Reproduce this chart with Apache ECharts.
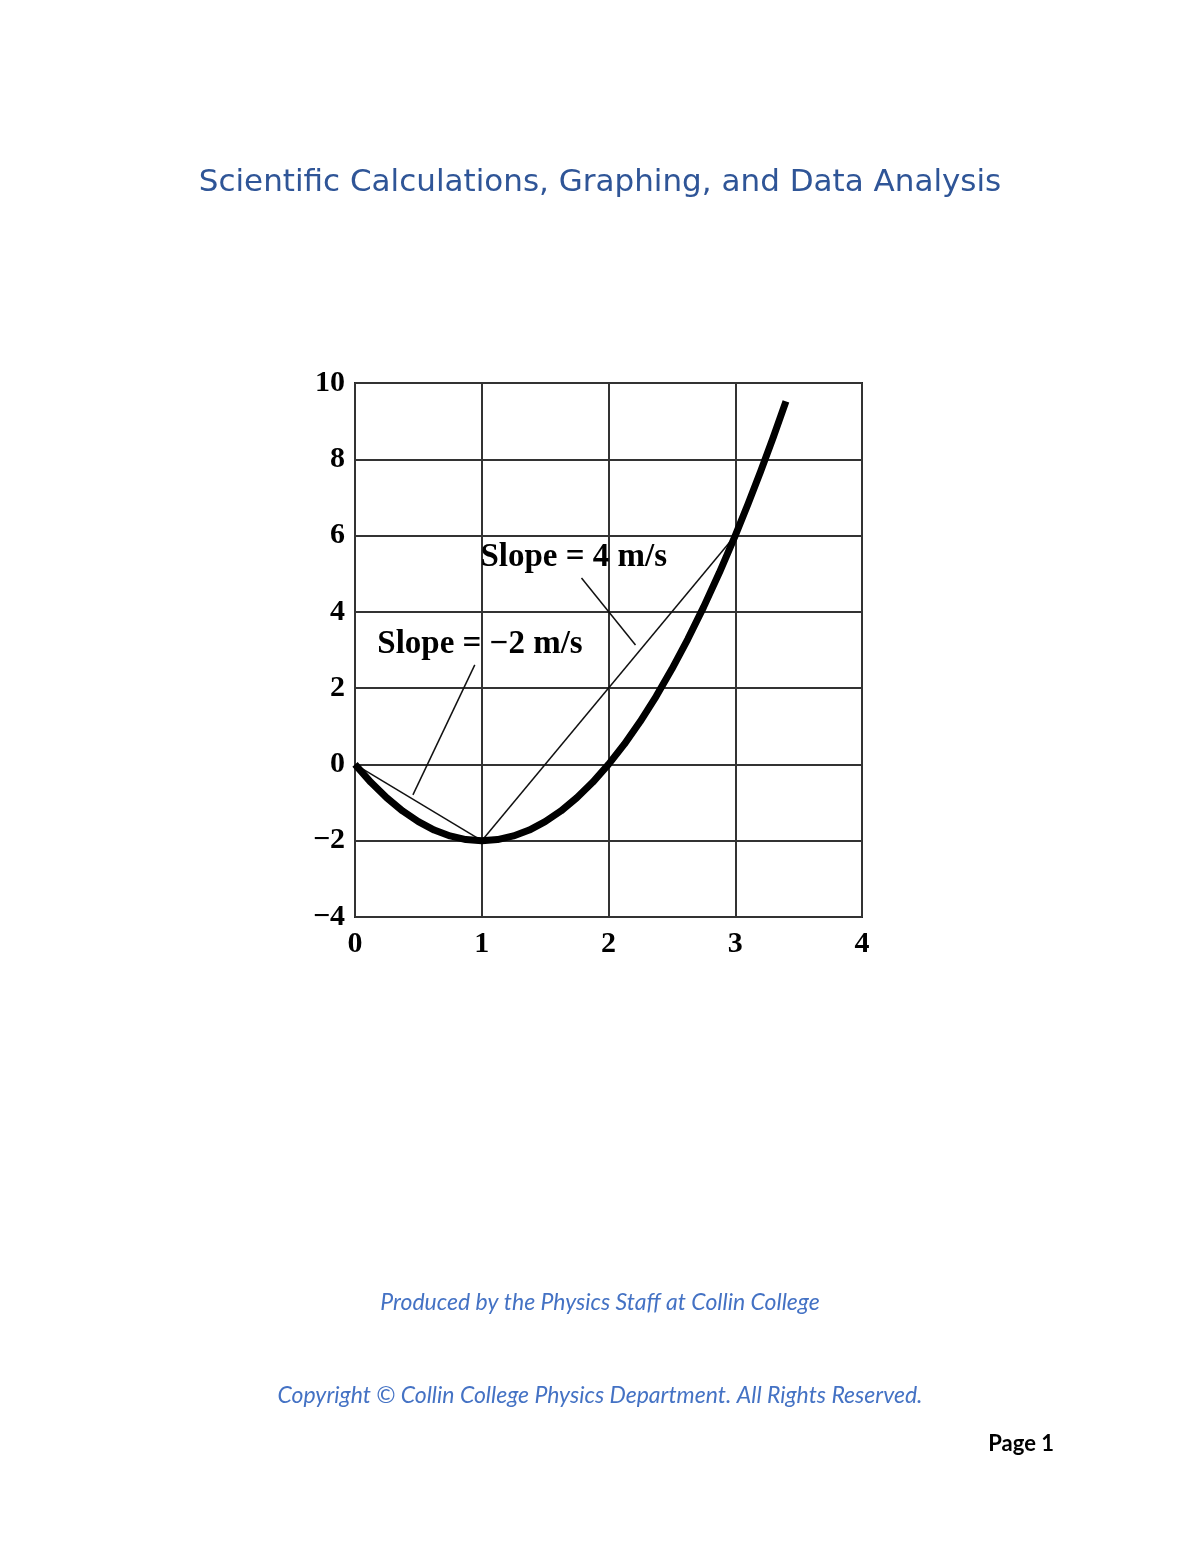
<!DOCTYPE html>
<html><head><meta charset="utf-8">
<script src="https://cdn.jsdelivr.net/npm/echarts@6/dist/echarts.min.js"></script>
<style>html,body{margin:0;padding:0;background:#fff}#c{width:1200px;height:1553px}</style>
</head><body><div id="c"></div>
<script>
const xTicks = [0,1,2,3,4];
const yTicks = [-4,-2,0,2,4,6,8,10];
const curve = [[0,0],[0.125,-0.47],[0.25,-0.875],[0.375,-1.22],[0.5,-1.5],[0.625,-1.72],[0.75,-1.875],[0.875,-1.97],[1,-2],[1.125,-1.97],[1.25,-1.875],[1.375,-1.72],[1.5,-1.5],[1.625,-1.22],[1.75,-0.875],[1.875,-0.47],[2,0],[2.125,0.53],[2.25,1.125],[2.375,1.78],[2.5,2.5],[2.625,3.28],[2.75,4.125],[2.875,5.03],[3,6],[3.1,6.82],[3.2,7.68],[3.3,8.58],[3.4,9.52]];
const chord1 = [[0,0],[1,-2]];
const chord2 = [[1,-2],[3,6]];
const pointer1 = [[0.945,2.61],[0.457,-0.8]];
const pointer2 = [[1.787,4.89],[2.213,3.13]];
const labels = [{text:'Slope = 4 m/s', pos:[1.73,5.42]},{text:'Slope = \u22122 m/s', pos:[0.99,3.12]}];

const ch = echarts.init(document.getElementById('c'));
const thin = (d)=>({type:'line',data:d,symbol:'none',lineStyle:{color:'#111',width:1.5},z:3,animation:false});
ch.setOption({
  animation:false,
  title:[
    {text:'Scientific Calculations, Graphing, and Data Analysis',left:'center',top:162,textStyle:{fontFamily:'DejaVu Sans',fontWeight:'normal',fontSize:31,color:'#2f5597'}},
    {text:'Produced by the Physics Staff at Collin College',left:'center',top:1286,textStyle:{fontFamily:'Lato',fontStyle:'italic',fontWeight:'normal',fontSize:23,color:'#4472c4'}},
    {text:'Copyright \u00a9 Collin College Physics Department. All Rights Reserved.',left:'center',top:1379,textStyle:{fontFamily:'Lato',fontStyle:'italic',fontWeight:'normal',fontSize:23,color:'#4472c4'}},
    {text:'Page 1',right:141,top:1428,textStyle:{fontFamily:'Lato',fontWeight:'bold',fontSize:22,color:'#000'}}
  ],
  grid:{left:355,right:338,top:383,bottom:636,show:true,borderColor:'#222',borderWidth:2},
  xAxis:{type:'value',min:0,max:4,interval:1,
    axisLine:{show:false},axisTick:{show:false},
    splitLine:{lineStyle:{color:'#333',width:2}},
    axisLabel:{fontFamily:'Liberation Serif',fontWeight:'bold',fontSize:30,color:'#000',margin:12}},
  yAxis:{type:'value',min:-4,max:10,interval:2,
    axisLine:{show:false},axisTick:{show:false},
    splitLine:{lineStyle:{color:'#333',width:2}},
    axisLabel:{fontFamily:'Liberation Serif',fontWeight:'bold',fontSize:30,color:'#000',margin:10,
      formatter:v=>String(v).replace('-','\u2212')}},
  series:[
    {type:'line',data:curve,smooth:false,symbol:'none',lineStyle:{color:'#000',width:7,join:'round'},z:4},
    thin(chord1),thin(chord2),thin(pointer1),thin(pointer2),
    {type:'scatter',symbolSize:1,itemStyle:{opacity:0},data:labels.map(l=>({value:l.pos,name:l.text})),z:5,
      label:{show:true,position:[0,0],align:'center',verticalAlign:'middle',formatter:p=>p.name,fontFamily:'Liberation Serif',fontWeight:'bold',fontSize:33,color:'#000',opacity:1}}
  ]
});
</script></body></html>
